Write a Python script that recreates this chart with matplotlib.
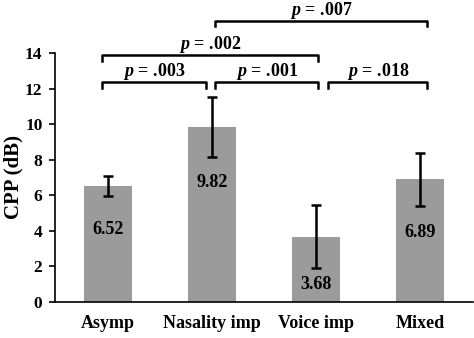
import matplotlib
matplotlib.use("Agg")
import matplotlib.pyplot as plt

categories = ["Asymp", "Nasality imp", "Voice imp", "Mixed"]
means = [6.52, 9.82, 3.68, 6.89]
errors = [0.58, 1.68, 1.76, 1.50]
value_label_y = [4.05, 6.7, 1.0, 3.9]
yticks = [0, 2, 4, 6, 8, 10, 12, 14]

# comparisons: (x_start, x_end, level y, text)
comparisons = [
    (-0.06, 0.94, 12.35, "= .003"),
    (1.03, 2.02, 12.35, "= .001"),
    (2.12, 3.07, 12.35, "= .018"),
    (-0.06, 2.02, 13.87, "= .002"),
    (1.03, 3.07, 15.8, "= .007"),
]

plt.rcParams['font.family'] = ['Liberation Serif', 'DejaVu Serif']
plt.rcParams['font.weight'] = 'bold'
plt.rcParams['mathtext.fontset'] = 'custom'
plt.rcParams['mathtext.it'] = 'Liberation Serif:italic:bold'
plt.rcParams['mathtext.rm'] = 'Liberation Serif:bold'

fig = plt.figure(figsize=(4.74, 3.38), dpi=100)
ax = fig.add_axes([55/474, 36/338, 418/474, 249/338])

x = list(range(len(categories)))
ax.bar(x, means, width=0.47, color="#9b9b9b", zorder=2)
ax.errorbar(x, means, yerr=errors, fmt="none", ecolor="black",
            elinewidth=1.8, capsize=3.5, capthick=1.8, zorder=3)

for xi, v, ly in zip(x, means, value_label_y):
    ax.text(xi, ly, f"{v:.2f}", ha="center", va="center",
            fontsize=13, fontweight="bold", zorder=4)

ax.set_xlim(-0.51, 3.51)
ax.set_ylim(0, 14)
ax.set_yticks(yticks)
ax.set_yticklabels([str(t) for t in yticks], fontsize=12.5, fontweight="bold")
ax.set_xticks(x)
ax.set_xticklabels(categories, fontsize=13, fontweight="bold")
ax.tick_params(axis="x", length=0, pad=9)
ax.tick_params(axis="y", length=4, width=1.2, pad=5)
fig.text(13/474, 1 - 177/338, "CPP (dB)", rotation=90, ha="center", va="center",
         fontsize=15, fontweight="bold")

for s in ["top", "right"]:
    ax.spines[s].set_visible(False)
ax.spines["left"].set_linewidth(1.2)
ax.spines["bottom"].set_linewidth(1.2)

drop = 0.3
for x0, x1, yl, txt in comparisons:
    ax.plot([x0, x0, x1, x1], [yl - drop, yl, yl, yl - drop], color="black",
            lw=1.8, clip_on=False, zorder=5)
    ax.text((x0 + x1) / 2, yl + 0.36, r"$p$ " + txt, ha="center", va="baseline",
            fontsize=13, fontweight="bold", clip_on=False)

fig.savefig("out.png", dpi=100)
